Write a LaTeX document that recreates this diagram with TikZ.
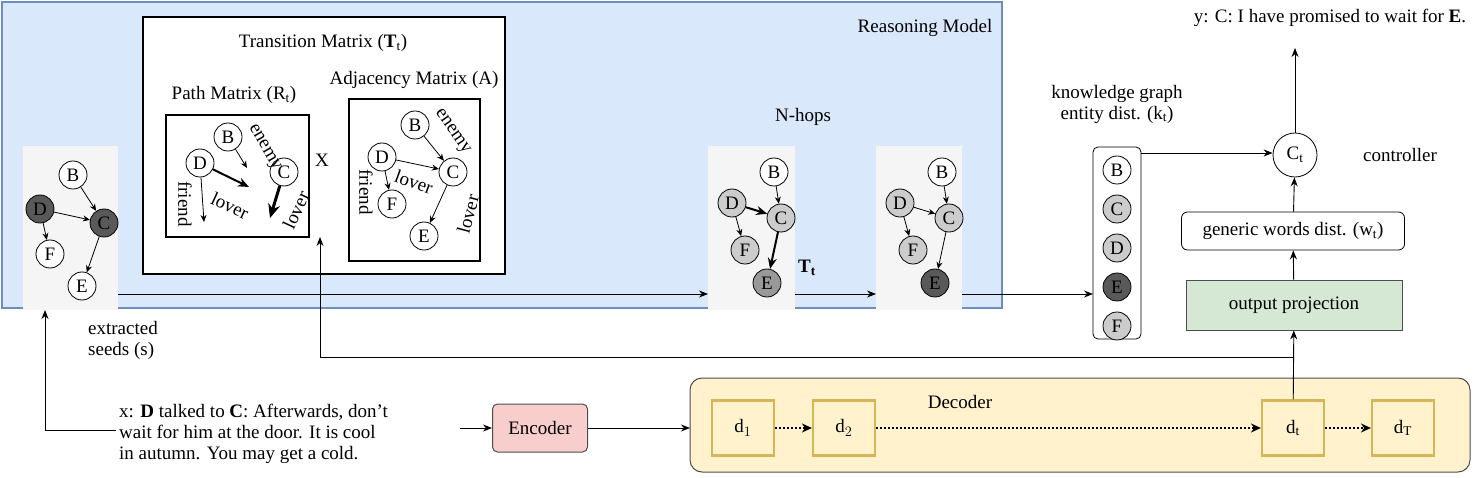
\documentclass[tikz,border=0pt]{standalone}
\usepackage{fontspec}
\setmainfont{Liberation Serif}
\usetikzlibrary{arrows.meta}
\definecolor{rmfill}{HTML}{DAE8FC}\definecolor{rmline}{HTML}{6C8EBF}
\definecolor{gfill}{HTML}{D5E8D4}\definecolor{gline}{HTML}{82B366}
\definecolor{yfill}{HTML}{FFF2CC}\definecolor{yline}{HTML}{D6B656}
\definecolor{rfill}{HTML}{F8CECC}\definecolor{rline}{HTML}{B85450}
\definecolor{panel}{HTML}{F5F5F5}
\begin{document}
\begin{tikzpicture}[x=1pt,y=-1pt,font=\fontsize{19}{21}\selectfont,
  g/.style={circle,draw,line width=0.8pt,fill=white,minimum size=28pt,inner sep=0pt},
  lg/.style={g,fill=black!20}, mg/.style={g,fill=black!40}, dg/.style={g,fill=black!65},
  a/.style={-{Stealth[length=7pt,width=6pt]},line width=0.8pt},
  ta/.style={-{Stealth[length=11pt,width=9pt]},line width=2pt},
  arr/.style={-{Stealth[length=9pt,width=7pt]},line width=0.9pt},
  dot/.style={-{Stealth[length=10pt,width=9pt]},line width=2pt,dotted},
  dbox/.style={draw=yline,fill=yfill,line width=2.2pt,minimum width=62pt,minimum height=55pt},
  pan/.style={fill=panel}]
\useasboundingbox (0,0) rectangle (1474,478);
% reasoning model
\draw[rmline,fill=rmfill,line width=2pt] (2,2) rectangle (1002,308);
\node (rm) at (925,28) {Reasoning Model};
\draw[fill=white,line width=2pt] (143,17) rectangle (505,274);
\node (tm) at (323,43) {Transition Matrix ($\mathbf{T}_\mathrm{t}$)};
\node (pmt) at (234,95) {Path Matrix (R$_\mathrm{t}$)};
\draw[line width=2pt] (166,115) rectangle (309,237);
\coordinate (pb) at (320,237);
\node (x) at (322,160) {X};
\node (amt) at (414,80) {Adjacency Matrix (A)};
\draw[line width=2pt] (349,99) rectangle (480,261);
% path graph
\node[g] (pB) at (228,137) {B};
\node[g] (pD) at (200,163) {D};
\node[g] (pC) at (284,172) {C};
\coordinate (p1) at (247,168); \coordinate (p2) at (249,187);
\coordinate (p3) at (204,222); \coordinate (p4) at (270,218);
\draw[a] (pB) -- (p1);
\draw[ta] (pD) -- (p2);
\draw[a] (pD) -- (p3);
\draw[-{Stealth[length=14pt,width=12pt]},line width=3pt] (pC) -- (p4);
\node[rotate=-60,inner sep=0pt] at (264,148) {enemy};
\node[rotate=-25,inner sep=0pt] at (230,206) {lover};
\node[rotate=-90,inner sep=0pt] at (185,204) {friend};
\node[rotate=65,inner sep=0pt] at (296,210) {lover};
% adjacency graph
\node[g] (aB) at (415,125) {B};
\node[g] (aD) at (382,157) {D};
\node[g] (aC) at (453,172) {C};
\node[g] (aF) at (392,204) {F};
\node[g] (aE) at (424,236) {E};
\draw[a] (aB) -- (aC); \draw[a] (aD) -- (aC); \draw[a] (aD) -- (aF); \draw[a] (aC) -- (aE);
\node[rotate=-55,inner sep=0pt] at (452,132) {enemy};
\node[rotate=-20,inner sep=0pt] at (414,182) {lover};
\node[rotate=-90,inner sep=0pt] at (366,192) {friend};
\node[rotate=75,inner sep=0pt] at (468,214) {lover};
% seeds panel
\fill[pan] (23,146) rectangle (118,310);
\coordinate (s1) at (118,294); \coordinate (sb) at (45,310);
\node[g] (sB) at (73,175) {B};
\node[dg] (sD) at (40,209) {D};
\node[dg] (sC) at (104,223) {C};
\node[g] (sF) at (50,254) {F};
\node[g] (sE) at (82,286) {E};
\draw[a] (sB) -- (sC); \draw[a] (sD) -- (sC); \draw[a] (sD) -- (sF); \draw[a] (sC) -- (sE);
% hops
\node (nh) at (803,117) {N-hops};
\fill[pan] (708,146) rectangle (795,310);
\node[g] (hB) at (774,172) {B};
\node[lg] (hD) at (732,203) {D};
\node[lg] (hC) at (781,218) {C};
\node[lg] (hF) at (745,250) {F};
\node[mg] (hE) at (767,283) {E};
\draw[a] (hB) -- (hC); \draw[ta] (hD) -- (hC); \draw[a] (hD) -- (hF); \draw[ta] (hC) -- (hE);
\node (tt) at (807,268) {$\mathbf{T_t}$};
\fill[pan] (876,146) rectangle (962,310);
\node[g] (kB) at (942,172) {B};
\node[lg] (kD) at (900,203) {D};
\node[lg] (kC) at (949,218) {C};
\node[lg] (kF) at (913,250) {F};
\node[dg] (kE) at (935,283) {E};
\draw[a] (kB) -- (kC); \draw[a] (kD) -- (kC); \draw[a] (kD) -- (kF); \draw[a] (kC) -- (kE);
\coordinate (h1o) at (795,294); \coordinate (h2i) at (876,294);
\coordinate (h1i) at (708,294); \coordinate (h2o) at (962,294);
\draw[arr] (h1o) -- (h2i);
\draw[arr] (s1) -- (h1i);
% kt column
\node[align=center] (kg) at (1117,104) {knowledge graph\\entity dist. (k$_\mathrm{t}$)};
\draw[rounded corners=5pt,line width=0.8pt] (1093,147) rectangle (1141,339);
\coordinate (kin) at (1093,294); \coordinate (kout) at (1141,153);
\node[g] (eB) at (1117,170) {B};
\node[lg] (eC) at (1117,209) {C};
\node[lg] (eD) at (1117,248) {D};
\node[dg] (eE) at (1117,287) {E};
\node[lg] (eF) at (1117,326) {F};
\draw[arr] (h2o) -- (kin);
% controller
\node[circle,draw,line width=0.8pt,minimum size=44pt] (ct) at (1295,155) {C$_\mathrm{t}$};
\node (ctl) at (1400,155) {controller};
\coordinate (ytop) at (1295,48);
\node (y) at (1330,18) {y: C: I have promised to wait for \textbf{E}.};
\draw[arr] (ct) -- (ytop);
\draw[arr] (kout) -- (ct.west|-kout);
\node[draw,rounded corners=6pt,line width=0.8pt,minimum width=223pt,minimum height=38pt] (gw) at (1293,231) {generic words dist. (w$_\mathrm{t}$)};
\node[draw=black!70,fill=gfill,line width=0.8pt,minimum width=216pt,minimum height=50pt] (op) at (1294,305) {output projection};
\draw[arr] (gw) -- (ct);
\draw[arr] (op) -- (gw);
% decoder
\draw[black!70,fill=yfill,rounded corners=12pt,line width=1pt] (690,378) rectangle (1470,472);
\node (dec) at (960,402) {Decoder};
\node[dbox] (d1) at (743,428) {d$_1$};
\node[dbox] (d2) at (844,428) {d$_2$};
\node[dbox] (dt) at (1293,428) {d$_\mathrm{t}$};
\node[dbox] (dT) at (1403,428) {d$_\mathrm{T}$};
\draw[dot] (d1) -- (d2); \draw[dot] (d2) -- (dt); \draw[dot] (dt) -- (dT);
\coordinate (j) at (1293,357); \coordinate (jl) at (320,357);
\draw[arr] (dt) -- (op);
\draw[arr] (j) -- (jl) -- (pb);
% encoder
\node[draw=black!70,fill=rfill,rounded corners=5pt,line width=1pt,minimum width=95pt,minimum height=48pt] (enc) at (540,428) {Encoder};
\node[align=left,anchor=west,inner sep=0pt] (xt) at (119,434) {x: \textbf{D} talked to \textbf{C}: Afterwards, don't\\wait for him at the door. It is cool\\in autumn. You may get a cold.};
\node[align=left,anchor=west,inner sep=0pt] (seeds) at (88,340) {extracted\\seeds (s)};
\coordinate (xr) at (460,428);
\draw[arr] (xr) -- (enc);
\draw[arr] (enc) -- (690,428);
\coordinate (xl) at (116,430);
\draw[arr] (xl) -| (sb);
\end{tikzpicture}
\end{document}
